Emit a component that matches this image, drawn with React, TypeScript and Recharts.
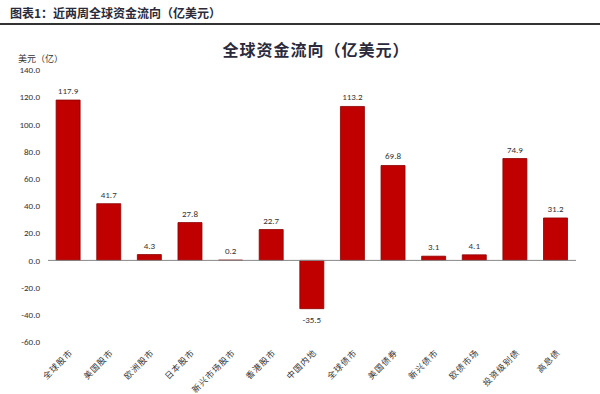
import React from 'react';
import { BarChart, Bar, XAxis, YAxis, ReferenceLine, LabelList } from 'recharts';

const categories = ['全球股市', '美国股市', '欧洲股市', '日本股市', '新兴市场股市', '香港股市', '中国内地', '全球债市', '美国债券', '新兴债市', '欧债市场', '投资级别债', '高息债'];
const flows = [117.9, 41.7, 4.3, 27.8, 0.2, 22.7, -35.5, 113.2, 69.8, 3.1, 4.1, 74.9, 31.2];
const yTicks = [-60, -40, -20, 0, 20, 40, 60, 80, 100, 120, 140];

const data = categories.map((name, i) => ({ name, value: flows[i] }));

const FONT = '"Noto Sans CJK SC", "Noto Sans", sans-serif';
const NUM_FONT = "Carlito, 'Liberation Sans', sans-serif";

const CatTick = (props: any) => {
  const { x, y, payload } = props;
  return (
    <g transform={`translate(${x + 3},${y + 1})`}>
      <text x={0} y={0} dy={3} textAnchor="end" transform="rotate(-45)" fontSize={8.5} letterSpacing={1} fill="#333" fontFamily={FONT}>
        {payload.value}
      </text>
    </g>
  );
};

const ValueLabel = (props: any) => {
  const { x, y, width, height, value } = props;
  const cx = x + width / 2;
  const neg = value < 0;
  const top = Math.min(y, y + height);
  const bottom = Math.max(y, y + height);
  const ty = neg ? bottom + 14 : top - 6;
  return (
    <text x={cx} y={ty} textAnchor="middle" fontSize={9} fill="#333" fontFamily={NUM_FONT}>
      {value.toFixed(1)}
    </text>
  );
};

export default function App() {
  return (
    <div style={{ position: 'absolute', left: 0, top: 0, width: 600, height: 394, background: '#fff', fontFamily: FONT }}>
      <div style={{ position: 'absolute', left: 10, top: 4, fontSize: 12, fontWeight: 700, color: '#2a2a3a' }}>
        图表1：近两周全球资金流向（亿美元）
      </div>
      <div style={{ position: 'absolute', left: 0, top: 23, width: 600, height: 1.5, background: '#333' }} />
      <div style={{ position: 'absolute', left: 0, width: 600, top: 37, textAlign: 'center', fontSize: 16, fontWeight: 700, letterSpacing: 1, color: '#2a2a3a', paddingLeft: 16 }}>
        全球资金流向（亿美元）
      </div>
      <div style={{ position: 'absolute', left: 18, top: 52, fontSize: 9, color: '#333' }}>美元（亿）</div>
      <BarChart
        width={600}
        height={394}
        data={data}
        margin={{ top: 70, right: 24, bottom: 2, left: 0 }}
        barCategoryGap="20%"
        style={{ position: 'absolute', left: 0, top: 0 }}
      >
        <XAxis
          dataKey="name"
          interval={0}
          height={50}
          axisLine={false}
          tickLine={false}
          tick={<CatTick />}
        />
        <YAxis
          width={48}
          domain={[-60, 140]}
          ticks={yTicks}
          axisLine={false}
          tickLine={false}
          tickFormatter={(v: number) => v.toFixed(1)}
          tick={{ fontSize: 9, fill: '#333', fontFamily: NUM_FONT }}
        />
        <ReferenceLine y={0} stroke="#888" strokeWidth={1} />
        <Bar dataKey="value" fill="#c00000" stroke="#8a0000" strokeWidth={0.8} isAnimationActive={false}>
          <LabelList dataKey="value" content={<ValueLabel />} />
        </Bar>
      </BarChart>
    </div>
  );
}
